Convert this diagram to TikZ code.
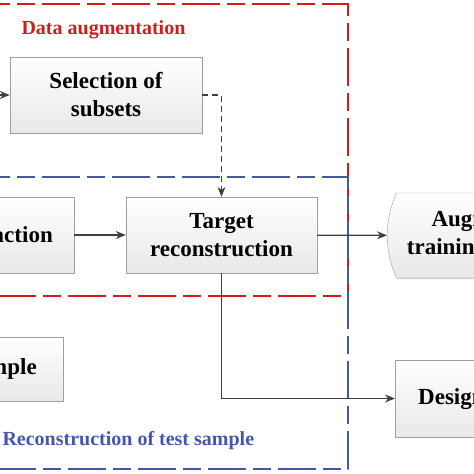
\documentclass[tikz,border=0pt]{standalone}
\usepackage{fontspec}
\setmainfont{Liberation Serif}
\usetikzlibrary{shapes.misc,shadows,arrows.meta}
\definecolor{augred}{RGB}{212,28,28}
\definecolor{recblue}{RGB}{70,88,165}
\definecolor{linegray}{RGB}{64,64,64}

\begin{document}
\begin{tikzpicture}[x=1pt,y=-1pt,
  every node/.style={font=\bfseries\fontsize{23}{28}\selectfont,align=center},
  box/.style={draw=gray!75,top color=white,bottom color=gray!18,minimum height=76pt,
    drop shadow={shadow xshift=1pt,shadow yshift=-1pt,opacity=0.35}},
  frame/.style={line width=2.2pt,dash pattern=on 38pt off 7pt on 18pt off 7pt},
  tag/.style={font=\bfseries\fontsize{20}{24}\selectfont,anchor=west},
  link/.style={draw=linegray,line width=1.2pt,-{Stealth[length=10pt,width=8pt]}}]
\useasboundingbox (0,0) rectangle (474,474);
\clip (0,0) rectangle (474,474);
\draw [frame,augred] (-60,4) rectangle (348,296);
\draw [frame,recblue] (-60,177) rectangle (348,469);
\node [tag,text=augred] (augtag) at (18,30) {Data augmentation};
\node [tag,text=recblue] (rectag) at (-1,441) {Reconstruction of test sample};
\coordinate (orig) at (-20,95);
\node [box,minimum width=192pt] (sel) at (106,95) {Selection of\\subsets};
\node [box,anchor=east,inner xsep=21pt] (ext) at (74,235) {Feature extraction};
\node [box,minimum width=191pt] (tgt) at (221.5,235) {Target\\reconstruction};
\node [box,anchor=east,minimum height=64pt,inner xsep=26pt] (test) at (63,369) {Test sample};
\node [box,rounded rectangle,rounded rectangle arc length=50,rounded rectangle right arc=none,
  minimum height=85pt,minimum width=206pt,anchor=west] (aug) at (387,235.5) {Augmented\\training samples};
\node [box,anchor=west,minimum height=77pt,inner xsep=23pt] (des) at (395,398.5) {Design of classifier};
\draw [link] (orig) -- (sel);
\draw [link,dash pattern=on 6pt off 4pt] (sel.east) -| (tgt.north);
\draw [link] (ext) -- (tgt);
\draw [link] (tgt) -- (aug);
\draw [link] (tgt.south) |- (des.west);
\end{tikzpicture}
\end{document}
